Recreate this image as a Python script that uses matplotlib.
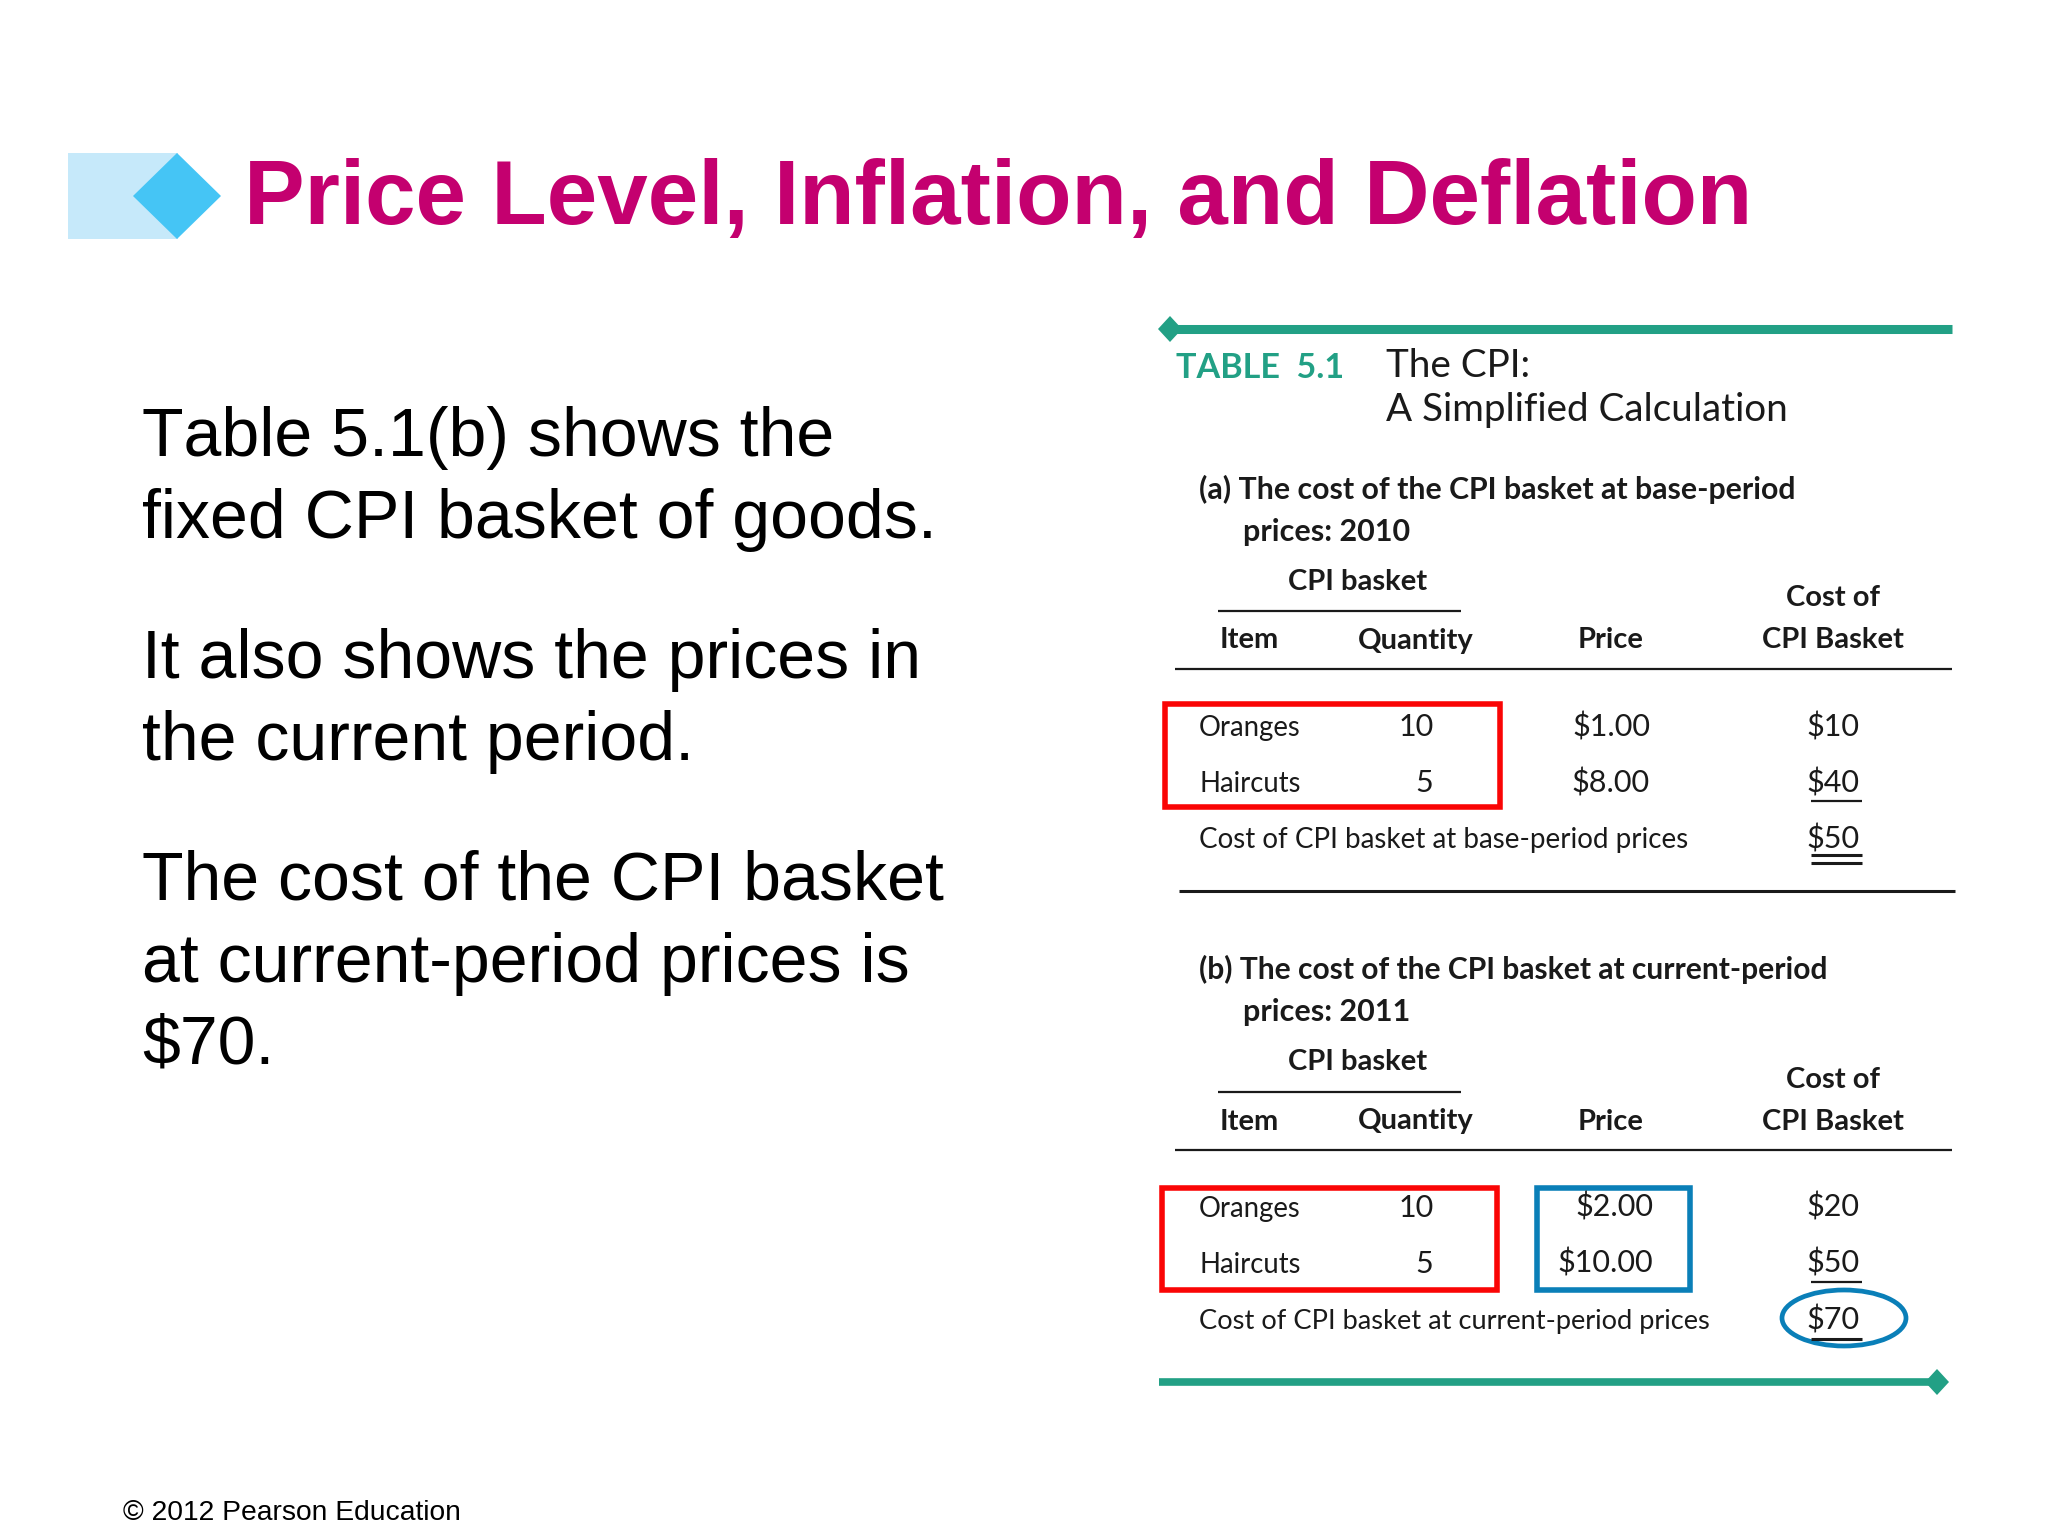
import matplotlib
matplotlib.use('Agg')
import matplotlib.pyplot as plt
from matplotlib.patches import Rectangle, Polygon, Ellipse

# the slide has no kerning ("Table" is wider than matplotlib's default)
plt.rcParams['text.kerning_factor'] = 10

PINK = '#c4006f'
TEAL = '#22a085'
RED = '#fa0505'
BLUE = '#0a7fb8'
INK = '#1a1a1a'
TABLE_FONT = 'Lato'

title = 'Price Level, Inflation, and Deflation'
body_lines = ['Table 5.1(b) shows the', 'fixed CPI basket of goods.',
              'It also shows the prices in', 'the current period.',
              'The cost of the CPI basket', 'at current-period prices is', '$70.']
footer = '\u00a9 2012 Pearson Education'

items = ['Oranges', 'Haircuts']
quantities = ['10', '5']
prices_a = ['$1.00', '$8.00']
costs_a = ['$10', '$40']
total_a = '$50'
prices_b = ['$2.00', '$10.00']
costs_b = ['$20', '$50']
total_b = '$70'

fig = plt.figure(figsize=(20.48, 15.36), dpi=100)
ax = fig.add_axes([0, 0, 1, 1])
ax.set_xlim(0, 2048)
ax.set_ylim(1536, 0)
ax.axis('off')


def txt(x, y, s, size, ha='left', weight='normal', color=INK, family=TABLE_FONT):
    ax.text(x, y, s, fontsize=size, ha=ha, va='baseline', fontweight=weight, color=color, family=family)


def rule(x0, x1, y, lw=1.6, color=INK):
    ax.plot([x0, x1], [y, y], color=color, lw=lw, solid_capstyle='butt')


def diamond(cx, cy, rx, ry, color):
    ax.add_patch(Polygon([(cx - rx, cy), (cx, cy - ry), (cx + rx, cy), (cx, cy + ry)], color=color, lw=0))


# header
ax.add_patch(Rectangle((68, 153), 110, 86, color='#c6e9fa', lw=0))
diamond(177, 196, 44, 43, '#45c5f5')
txt(244, 224, title, 65.3, weight='bold', color=PINK, family='Liberation Sans')

# left text
for y, line in zip([456.5, 538.5, 678.5, 760.5, 899.5, 981.5, 1063.5], body_lines):
    txt(142, y, line, 49, color='black', family='Liberation Sans')
txt(123, 1520, footer, 20.3, color='black', family='Liberation Sans')

# table head
rule(1170, 1952, 329, lw=6.5, color=TEAL)
diamond(1170, 329, 12, 13, TEAL)
txt(1176, 378, 'TABLE  5.1', 24.6, weight='bold', color=TEAL)
txt(1386, 377, 'The CPI:', 27.8)
txt(1386, 421, 'A Simplified Calculation', 27.8)


def panel(top, label, year, period, prices, price_x, costs, total, label_size, total_size):
    # top is the baseline of the first heading line
    txt(1199, top, label, label_size, weight='bold')
    txt(1243, top + 42, 'prices: ' + year, 22, weight='bold')
    txt(1358, top + 91, 'CPI basket', 21, ha='center', weight='bold')
    rule(1218, 1461, top + 112)
    txt(1833, top + 108, 'Cost of', 21, ha='center', weight='bold')
    txt(1220, top + 150, 'Item', 21, weight='bold')
    txt(1416, top + 150, 'Quantity', 21, ha='center', weight='bold')
    txt(1611, top + 150, 'Price', 21, ha='center', weight='bold')
    txt(1833, top + 150, 'CPI Basket', 21, ha='center', weight='bold')
    rule(1175, 1952, top + 170.5)
    for i in range(len(items)):
        y = top + 237.5 + i * 56
        txt(1199, y, items[i], 19.8)
        txt(1424 if quantities[i] == '5' else 1416, y, quantities[i], 22, ha='center')
        txt(price_x, y, prices[i], 22, ha='right')
        txt(1833, y, costs[i], 22, ha='center')
    rule(1811, 1862, top + 302)
    txt(1199, top + 349.5, 'Cost of CPI basket at ' + period + ' prices', total_size)
    txt(1833, top + 350, total, 22, ha='center')


panel(498.5, '(a) The cost of the CPI basket at base-period', '2010', 'base-period',
      prices_a, 1650, costs_a, total_a, 21.8, 20)
rule(1811, 1862, 855, lw=2.2)
rule(1811, 1862, 863, lw=2.2)
rule(1179, 1955, 890.5, lw=2.2)

panel(979.5, '(b) The cost of the CPI basket at current-period', '2011', 'current-period',
      prices_b, 1653, costs_b, total_b, 21.6, 19.6)
rule(1811, 1862, 1339, lw=2.2)
rule(1159, 1937, 1382, lw=5.5, color=TEAL)
diamond(1937, 1382, 12, 13, TEAL)

# highlight boxes
ax.add_patch(Rectangle((1165, 704), 335, 103, fill=False, ec=RED, lw=4))
ax.add_patch(Rectangle((1162, 1188), 335, 102, fill=False, ec=RED, lw=4))
ax.add_patch(Rectangle((1537, 1188), 153, 102, fill=False, ec=BLUE, lw=4))
ax.add_patch(Ellipse((1844, 1318), 124, 56, fill=False, ec=BLUE, lw=3.4))

fig.savefig('out.png', dpi=100, facecolor='white')
